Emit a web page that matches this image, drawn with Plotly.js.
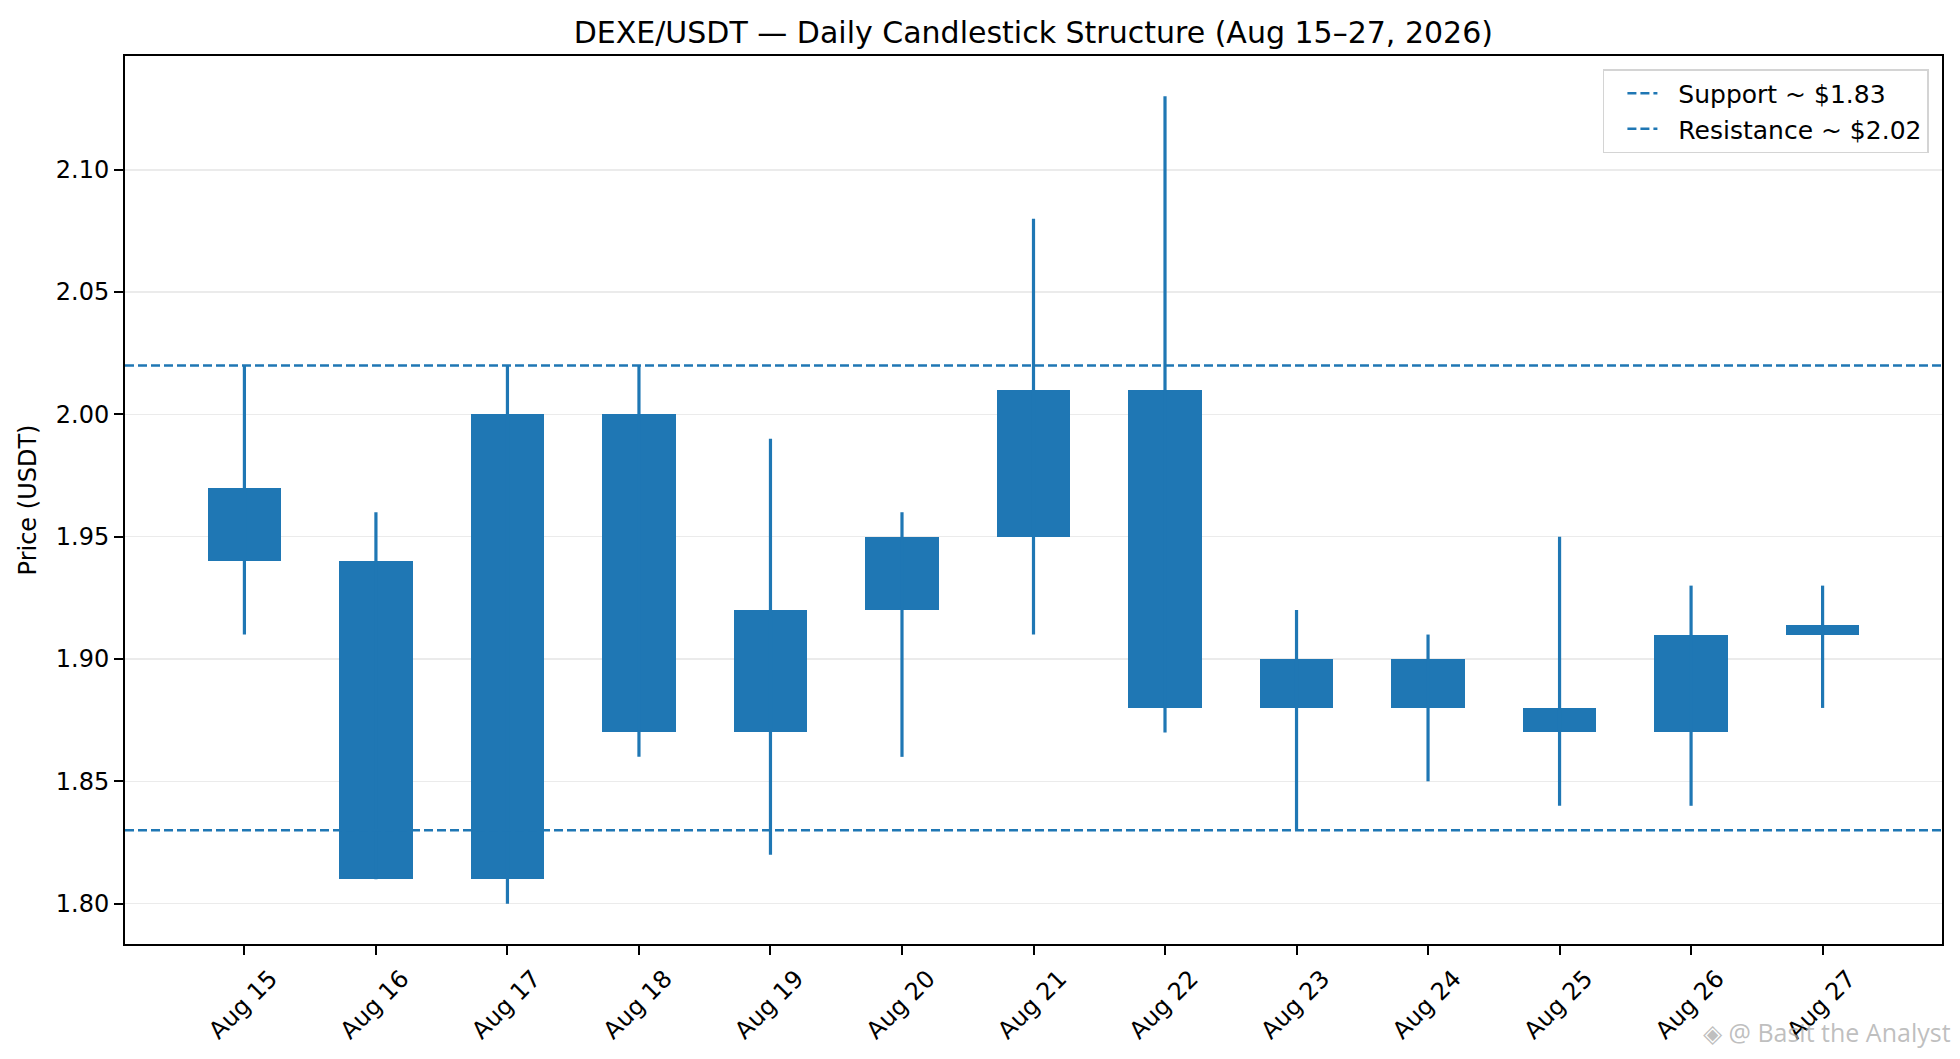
<!DOCTYPE html>
<html>
<head>
<meta charset="utf-8">
<script src="https://cdn.plot.ly/plotly-3.0.1.min.js"></script>
<style>
  html, body { margin: 0; padding: 0; background: #fff; }
  #chart { width: 1960px; height: 1059px; }
</style>
</head>
<body>
<div id="chart"></div>
<script>
// daily OHLC
const days = ['Aug 15', 'Aug 16', 'Aug 17', 'Aug 18', 'Aug 19', 'Aug 20', 'Aug 21',
              'Aug 22', 'Aug 23', 'Aug 24', 'Aug 25', 'Aug 26', 'Aug 27'];
const openPx  = [1.97, 1.94, 1.81, 2.00, 1.87, 1.92, 1.95, 2.01, 1.88, 1.90, 1.88, 1.87, 1.91];
const highPx  = [2.02, 1.96, 2.02, 2.02, 1.99, 1.96, 2.08, 2.13, 1.92, 1.91, 1.95, 1.93, 1.93];
const lowPx   = [1.91, 1.81, 1.80, 1.86, 1.82, 1.86, 1.91, 1.87, 1.83, 1.85, 1.84, 1.84, 1.88];
const closePx = [1.94, 1.81, 2.00, 1.87, 1.92, 1.95, 2.01, 1.88, 1.90, 1.88, 1.87, 1.91, 1.914];

const support = 1.83;
const resistance = 2.02;
const yTicks = [1.80, 1.85, 1.90, 1.95, 2.00, 2.05, 2.10];

const blue = '#1f77b4';
const bodyWidth = 0.56;
const idx = days.map((d, i) => i);

// wicks: one segment per day, split with nulls
const wickX = [], wickY = [];
idx.forEach(i => {
    wickX.push(i, i, null);
    wickY.push(lowPx[i], highPx[i], null);
});

const wicks = {
    x: wickX,
    y: wickY,
    type: 'scatter',
    mode: 'lines',
    line: { color: blue, width: 3.2 },
    showlegend: false,
    hoverinfo: 'skip'
};

const bodies = {
    x: idx,
    base: idx.map(i => Math.min(openPx[i], closePx[i])),
    y: idx.map(i => Math.abs(closePx[i] - openPx[i])),
    type: 'bar',
    width: bodyWidth,
    marker: { color: blue, line: { width: 0 } },
    showlegend: false,
    hoverinfo: 'skip'
};

// x range like matplotlib's 5% margin around the bars
const xLo = -bodyWidth / 2, xHi = days.length - 1 + bodyWidth / 2;
const xPad = (xHi - xLo) * 0.05;
const yLo = Math.min(...lowPx), yHi = Math.max(...highPx);
const yPad = (yHi - yLo) * 0.05;

// non-breaking spaces give the gap between line sample and label
function level(y, label) {
    return {
        type: 'line', xref: 'paper', x0: 0, x1: 1, yref: 'y', y0: y, y1: y,
        line: { color: blue, width: 2.6, dash: '9px,4px' },
        showlegend: true, name: '\u00a0\u00a0' + label, layer: 'above'
    };
}

const layout = {
    width: 1960,
    height: 1059,
    paper_bgcolor: '#fff',
    plot_bgcolor: '#fff',
    font: { family: 'DejaVu Sans', size: 24, color: '#000' },
    margin: { l: 125, r: 18, t: 56, b: 115 },
    title: {
        text: 'DEXE/USDT — Daily Candlestick Structure (Aug 15–27, 2026)',
        font: { size: 30 },
        x: 0.5272, xanchor: 'center', y: 0.969, yanchor: 'middle'
    },
    bargap: 0,
    xaxis: {
        range: [xLo - xPad, xHi + xPad],
        tickvals: idx,
        ticktext: days,
        tickangle: -45,
        ticklabelshift: 26,
        ticks: 'outside', ticklen: 9, tickwidth: 2, tickcolor: '#000',
        showline: true, mirror: true, linecolor: '#000', linewidth: 2,
        showgrid: false, zeroline: false
    },
    yaxis: {
        range: [yLo - yPad, yHi + yPad],
        tickvals: yTicks,
        tickformat: '.2f',
        ticks: 'outside', ticklen: 9, tickwidth: 2, tickcolor: '#000',
        showline: true, mirror: true, linecolor: '#000', linewidth: 2,
        showgrid: true, gridcolor: '#ebebeb', gridwidth: 1.5,
        zeroline: false,
        title: { text: 'Price (USDT)', standoff: 12, font: { size: 24 } }
    },
    shapes: [level(support, 'Support ~ $1.83'), level(resistance, 'Resistance ~ $2.02')],
    legend: {
        x: 0.9928, y: 0.9853, xanchor: 'right', yanchor: 'top',
        bgcolor: 'rgba(255,255,255,0.9)', bordercolor: '#d4d4d4', borderwidth: 1.5,
        font: { size: 25 }, indentation: 18
    },
    annotations: [{
        text: '◈ @ Basit the Analyst',
        xref: 'paper', yref: 'paper', x: 1.006, y: -0.099,
        xanchor: 'right', yanchor: 'middle', showarrow: false,
        font: { family: 'Open Sans', size: 25, color: 'rgba(170,170,170,0.75)' }
    }]
};

Plotly.newPlot('chart', [wicks, bodies], layout, { displayModeBar: false, staticPlot: true });
</script>
</body>
</html>
